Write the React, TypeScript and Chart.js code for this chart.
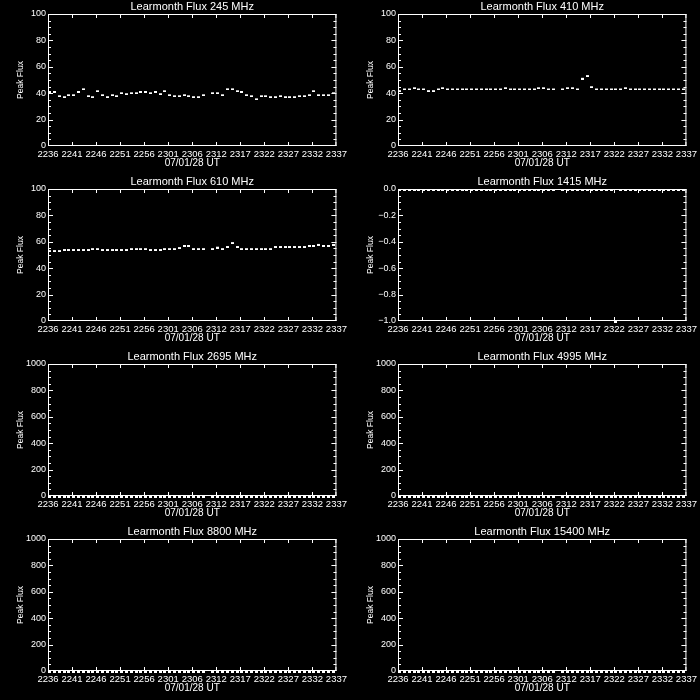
import React, { useEffect, useRef } from "react";
import { Chart, registerables } from "chart.js";

Chart.register(...registerables);

const FONT = "'Liberation Sans', Arial, sans-serif";

// x axis (minutes after 22:36 UT)
const tickLabels = ["2236", "2241", "2246", "2251", "2256", "2301", "2306", "2312", "2317", "2322", "2327", "2332", "2337"];
const xAxisTitle = "07/01/28 UT";
const yAxisTitle = "Peak Flux";
const axisMinutes = 61;
const firstSampleMinute = 0.35;
const sampleStepMinutes = 1.016;

const panelTitles = [
  "Learmonth Flux 245 MHz",
  "Learmonth Flux 410 MHz",
  "Learmonth Flux 610 MHz",
  "Learmonth Flux 1415 MHz",
  "Learmonth Flux 2695 MHz",
  "Learmonth Flux 4995 MHz",
  "Learmonth Flux 8800 MHz",
  "Learmonth Flux 15400 MHz",
];

// y ranges: [min, max, step, decimals]
const range100 = [0, 100, 20, 0];
const range1415 = [-1, 0, 0.2, 1];
const range1000 = [0, 1000, 200, 0];

const flux245 = [
  41.7, 41.7, 38.4, 37.7, 39.2, 39.2, 41.7, 43.7, 38.4, 37.7,
  42.2, 39.2, 37.7, 39.2, 38.4, 40.7, 40.0, 40.7, 40.7, 41.7,
  41.7, 40.7, 41.7, 40.0, 42.2, 39.2, 38.4, 38.4, 39.2, 38.4,
  37.7, 37.7, 39.2, null, 40.7, 40.7, 39.2, 43.7, 43.7, 42.2,
  41.7, 39.2, 38.4, 36.1, 38.4, 38.4, 37.7, 37.7, 38.4, 37.7,
  37.7, 37.7, 38.4, 38.4, 39.2, 42.2, 39.2, 39.2, 39.2, 40.7,
];
const flux410 = [
  42.3, 43.6, 43.6, 44.5, 43.6, 43.6, 42.3, 42.3, 43.6, 44.5,
  43.6, 43.6, 43.6, 43.6, 43.6, 43.6, 43.6, 43.6, 43.6, 43.6,
  43.6, 43.6, 44.5, 43.6, 43.6, 43.6, 43.6, 43.6, 43.6, 44.5,
  44.5, 43.6, 43.6, null, 43.6, 44.5, 44.5, 43.6, 51.7, 53.7,
  45.3, 43.6, 43.6, 43.6, 43.6, 43.6, 43.6, 44.5, 43.6, 43.6,
  43.6, 43.6, 43.6, 43.6, 43.6, 43.6, 43.6, 43.6, 43.6, 43.6,
];
const flux610 = [
  53.7, 53.7, 53.7, 54.5, 54.5, 54.5, 54.5, 54.5, 54.5, 55.2,
  55.2, 54.5, 54.5, 54.5, 54.5, 54.5, 54.5, 55.2, 55.2, 55.2,
  55.2, 54.5, 54.5, 54.5, 55.2, 55.2, 55.2, 56.0, 57.6, 57.6,
  55.2, 55.2, 55.2, null, 55.2, 56.3, 55.2, 56.8, 59.8, 56.8,
  55.2, 55.2, 55.2, 55.2, 55.2, 55.2, 55.2, 56.8, 56.8, 56.8,
  56.8, 56.8, 56.8, 56.8, 57.6, 57.6, 58.4, 57.6, 57.6, 58.4,
];
const flux1415 = [
  0, 0, 0, 0, 0, 0, 0, 0, 0, 0,
  0, 0, 0, 0, 0, 0, 0, 0, 0, 0,
  0, 0, 0, 0, 0, 0, 0, 0, 0, 0,
  0, 0, 0, null, 0, 0, 0, 0, 0, 0,
  0, 0, 0, 0, 0, -1, 0, 0, 0, 0,
  0, 0, 0, 0, 0, 0, 0, 0, 0, 0,
];
const flux2695 = [
  0, 0, 0, 0, 0, 0, 0, 0, 0, 0,
  0, 0, 0, 0, 0, 0, 0, 0, 0, 0,
  0, 0, 0, 0, 0, 0, 0, 0, 0, 0,
  0, 0, 0, null, 0, 0, 0, 0, 0, 0,
  0, 0, 0, 0, 0, 0, 0, 0, 0, 0,
  0, 0, 0, 0, 0, 0, 0, 0, 0, 0,
];
const flux4995 = [
  0, 0, 0, 0, 0, 0, 0, 0, 0, 0,
  0, 0, 0, 0, 0, 0, 0, 0, 0, 0,
  0, 0, 0, 0, 0, 0, 0, 0, 0, 0,
  0, 0, 0, null, 0, 0, 0, 0, 0, 0,
  0, 0, 0, 0, 0, 0, 0, 0, 0, 0,
  0, 0, 0, 0, 0, 0, 0, 0, 0, 0,
];
const flux8800 = [
  0, 0, 0, 0, 0, 0, 0, 0, 0, 0,
  0, 0, 0, 0, 0, 0, 0, 0, 0, 0,
  0, 0, 0, 0, 0, 0, 0, 0, 0, 0,
  0, 0, 0, null, 0, 0, 0, 0, 0, 0,
  0, 0, 0, 0, 0, 0, 0, 0, 0, 0,
  0, 0, 0, 0, 0, 0, 0, 0, 0, 0,
];
const flux15400 = [
  0, 0, 0, 0, 0, 0, 0, 0, 0, 0,
  0, 0, 0, 0, 0, 0, 0, 0, 0, 0,
  0, 0, 0, 0, 0, 0, 0, 0, 0, 0,
  0, 0, 0, null, 0, 0, 0, 0, 0, 0,
  0, 0, 0, 0, 0, 0, 0, 0, 0, 0,
  0, 0, 0, 0, 0, 0, 0, 0, 0, 0,
];

const panelSeries = [flux245, flux410, flux610, flux1415, flux2695, flux4995, flux8800, flux15400];
const panelRanges = [range100, range100, range100, range1415, range1000, range1000, range1000, range1000];

const PANEL_W = 350;
const PANEL_H = 175;
const MAJOR_Y = 5;
const MINOR_Y = 3;
const MAJOR_X = 4;

let markerCache: HTMLCanvasElement | null = null;
function marker(): HTMLCanvasElement {
  if (markerCache) return markerCache;
  const c = document.createElement("canvas");
  c.width = 3;
  c.height = 4;
  const g = c.getContext("2d")!;
  g.fillStyle = "#ffffff";
  g.fillRect(0, 2, 3, 2);
  markerCache = c;
  return c;
}

const framePlugin = {
  id: "idlFrame",
  beforeDatasetsDraw(chart: any) {
    const { ctx, chartArea: a, scales } = chart;
    const xs = scales.x;
    const ys = scales.y;
    ctx.save();
    ctx.strokeStyle = "#ffffff";
    ctx.lineWidth = 1;
    ctx.strokeRect(a.left + 0.5, a.top + 0.5, a.right - a.left - 1, a.bottom - a.top - 1);
    ctx.beginPath();
    xs.ticks.forEach((t: any) => {
      const px = Math.min(Math.round(xs.getPixelForValue(t.value)), a.right - 1) + 0.5;
      ctx.moveTo(px, a.bottom);
      ctx.lineTo(px, a.bottom - MAJOR_X);
      ctx.moveTo(px, a.top);
      ctx.lineTo(px, a.top + MAJOR_X);
    });
    const vals = ys.ticks.map((t: any) => t.value);
    const hline = (v: number, len: number) => {
      const py = Math.min(Math.round(ys.getPixelForValue(v)), a.bottom - 1) + 0.5;
      ctx.moveTo(a.left, py);
      ctx.lineTo(a.left + len, py);
      ctx.moveTo(a.right, py);
      ctx.lineTo(a.right - len, py);
    };
    vals.forEach((v: number) => hline(v, MAJOR_Y));
    for (let i = 0; i < vals.length - 1; i++) {
      for (let k = 1; k < 4; k++) hline(vals[i] + ((vals[i + 1] - vals[i]) * k) / 4, MINOR_Y);
    }
    ctx.stroke();
    ctx.restore();
  },
};

function Panel({ index }: { index: number }) {
  const ref = useRef<HTMLCanvasElement>(null);
  const col = index % 2;
  const row = Math.floor(index / 2);
  useEffect(() => {
    const values = panelSeries[index];
    const [min, max, step, decimals] = panelRanges[index];
    const points = values
      .map((v, i) => (v === null ? null : { x: firstSampleMinute + i * sampleStepMinutes, y: v }))
      .filter((p) => p !== null);
    const chart = new Chart(ref.current as HTMLCanvasElement, {
      type: "scatter",
      data: {
        datasets: [
          {
            data: points as any,
            pointStyle: marker() as any,
            pointRadius: 2,
            pointHoverRadius: 2,
            showLine: false,
            clip: false as any,
            backgroundColor: "#ffffff",
            borderColor: "#ffffff",
          },
        ],
      },
      options: {
        animation: false,
        responsive: false,
        devicePixelRatio: 1,
        events: [],
        layout: { padding: { left: 0, right: 13, top: 0, bottom: 0 } },
        plugins: {
          legend: { display: false },
          tooltip: { enabled: false },
          title: {
            display: true,
            text: panelTitles[index],
            color: "#ffffff",
            fullSize: false,
            font: { family: FONT, size: 11, weight: "normal", lineHeight: 1 },
            padding: { top: 1, bottom: 2 },
          },
        },
        scales: {
          x: {
            type: "linear",
            min: 0,
            max: axisMinutes,
            afterBuildTicks: (s: any) => {
              s.ticks = tickLabels.map((_, k) => ({ value: (k * axisMinutes) / (tickLabels.length - 1) }));
            },
            afterFit: (s: any) => {
              s.height = 29;
            },
            grid: { display: false, drawTicks: false },
            border: { display: false },
            ticks: {
              color: "#ffffff",
              font: { family: FONT, size: 9.5 },
              padding: 3,
              autoSkip: false,
              maxRotation: 0,
              minRotation: 0,
              callback: (_v: any, i: number) => tickLabels[i],
            },
            title: {
              display: true,
              text: xAxisTitle,
              color: "#ffffff",
              font: { family: FONT, size: 10 },
              padding: { top: 0, bottom: 6 },
            },
          },
          y: {
            type: "linear",
            min,
            max,
            afterFit: (s: any) => {
              s.width = 48;
            },
            grid: { display: false, drawTicks: false },
            border: { display: false },
            ticks: {
              stepSize: step,
              color: "#ffffff",
              font: { family: FONT, size: 9 },
              padding: 2,
              callback: (v: any) => {
                const n = Number(v);
                const s = decimals ? n.toFixed(decimals) : String(Math.round(n));
                return s.replace("-", "\u2212");
              },
            },
            title: {
              display: true,
              text: yAxisTitle,
              color: "#ffffff",
              font: { family: FONT, size: 8.5 },
              padding: { top: 15.6, bottom: 0 },
            },
          },
        },
      } as any,
      plugins: [framePlugin],
    });
    return () => chart.destroy();
  }, [index]);
  return (
    <canvas
      ref={ref}
      width={PANEL_W}
      height={PANEL_H}
      style={{ position: "absolute", left: col * PANEL_W, top: row * PANEL_H, width: PANEL_W, height: PANEL_H }}
    />
  );
}

export default function App() {
  useEffect(() => {
    document.body.style.background = "#000";
  }, []);
  return (
    <div
      style={{
        position: "absolute",
        left: 0,
        top: 0,
        width: 700,
        height: 700,
        background: "#000",
        overflow: "hidden",
      }}
    >
      {panelTitles.map((_, i) => (
        <Panel key={i} index={i} />
      ))}
    </div>
  );
}
